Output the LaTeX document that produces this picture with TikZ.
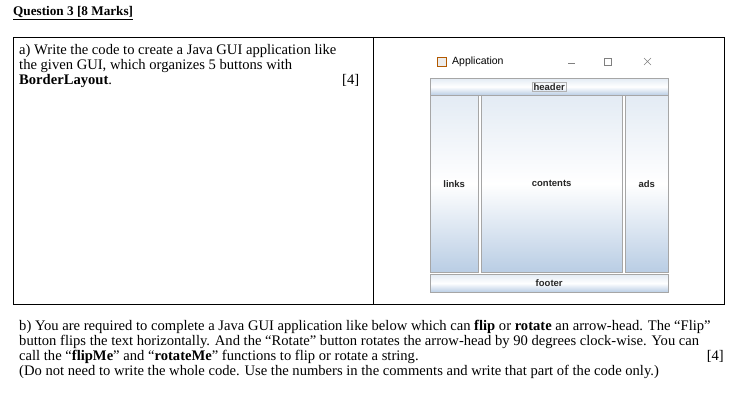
\documentclass[tikz,border=0pt]{standalone}
\usepackage{fontspec}
\setmainfont{Liberation Serif}
\newfontfamily\btnfont{Liberation Sans}
\definecolor{btnblue}{HTML}{B9CDE4}
\definecolor{btntop}{HTML}{E3EBF4}
\begin{document}
\begin{tikzpicture}[x=1pt,y=-1pt,
  txt/.style={anchor=base west,inner sep=0pt,font=\fontsize{14.6}{16}\selectfont},
  btn/.style={draw=black!35,top color=btntop,bottom color=btnblue,middle color=white,font=\btnfont\bfseries\fontsize{9.5}{11}\selectfont,text=black!85,inner sep=0pt}]
\useasboundingbox (0,0) rectangle (737,401);
\node[txt,font=\bfseries\fontsize{13.2}{15}\selectfont] (q) at (13,16) {\underline{Question 3 [8 Marks]}};
\draw[black,line width=0.7pt] (13,37) rectangle (724,304);
\draw[black,line width=0.7pt] (373,37) -- (373,304);
\node[txt] (a1) at (19,55) {a) Write the code to create a Java GUI application like};
\node[txt] (a2) at (19,70) {the given GUI, which organizes 5 buttons with};
\node[txt] (a3) at (19,85) {\textbf{BorderLayout}.};
\node[txt] (a4) at (342,85) {[4]};
% window
\node[anchor=west,inner sep=0pt,font=\btnfont\fontsize{10.5}{12}\selectfont] (ttl) at (452,62) {Application};
\draw[orange!70!black,fill=gray!15] (437,57) rectangle (446,66);
\draw[gray] (568,63) -- (575,63);
\draw[gray] (604,58) rectangle (611,65);
\draw[gray] (644,58) -- (651,65) (644,65) -- (651,58);
\node[btn,minimum width=238,minimum height=17,anchor=north west] (hd) at (430,78) {};
\node[draw=gray!60,inner sep=1pt,font=\btnfont\bfseries\fontsize{9.5}{11}\selectfont,text=black!85] (hdt) at (hd.center) {header};
\node[btn,minimum width=48,minimum height=177,anchor=north west] (lk) at (430,95) {links};
\node[btn,minimum width=141,minimum height=177,anchor=north west] (ct) at (481,95) {contents};
\node[btn,minimum width=43,minimum height=177,anchor=north west] (ad) at (625,95) {ads};
\node[btn,minimum width=238,minimum height=18,anchor=north west] (ft) at (430,274) {footer};
% part b
\node[txt] (b1) at (19,330) {b) You are required to complete a Java GUI application like below which can \textbf{flip} or \textbf{rotate} an arrow-head. The ``Flip''};
\node[txt] (b2) at (19,345) {button flips the text horizontally. And the ``Rotate'' button rotates the arrow-head by 90 degrees clock-wise. You can};
\node[txt] (b3) at (19,360) {call the ``\textbf{flipMe}'' and ``\textbf{rotateMe}'' functions to flip or rotate a string.};
\node[txt,anchor=base east] (b4) at (724,360) {[4]};
\node[txt] (b5) at (19,375) {(Do not need to write the whole code. Use the numbers in the comments and write that part of the code only.)};
\end{tikzpicture}
\end{document}
